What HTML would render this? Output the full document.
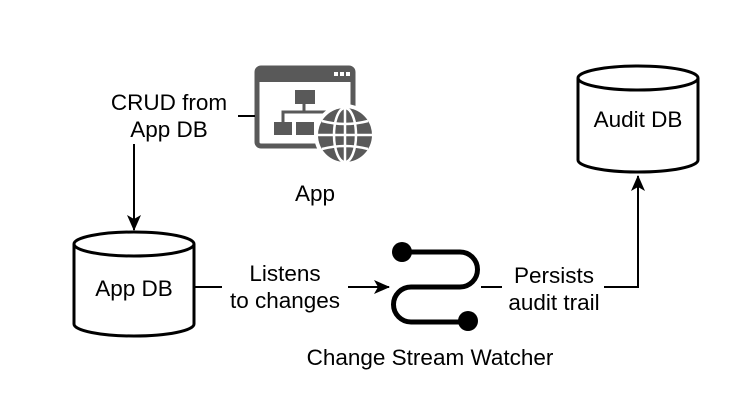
<!DOCTYPE html>
<html><head><style>
html,body{margin:0;padding:0;background:#fff;}
svg text{font-family:"Liberation Sans",Arial,sans-serif;font-size:22.5px;fill:#000;}
</style></head><body>
<svg width="738" height="410" viewBox="0 0 738 410" xmlns="http://www.w3.org/2000/svg">
<defs>
<marker id="ah" markerWidth="18" markerHeight="18" refX="16" refY="9" orient="auto" markerUnits="userSpaceOnUse">
<path d="M1,2 L17,9 L1,16 L5,9 Z" fill="#000"/>
</marker>
</defs>
<!-- App icon -->
<rect x="257" y="68" width="96" height="78" rx="4" fill="none" stroke="#595959" stroke-width="5"/>
<rect x="257" y="68" width="96" height="14" fill="#595959"/>
<rect x="334" y="72" width="4" height="4" fill="#fff"/><rect x="340" y="72" width="4" height="4" fill="#fff"/><rect x="346" y="72" width="4" height="4" fill="#fff"/>
<rect x="295" y="90" width="20" height="14" fill="#595959"/>
<path d="M304,104 V112 M283,123 V112 H326 V123" stroke="#595959" stroke-width="3" fill="none"/>
<rect x="274" y="122" width="18" height="13" fill="#595959"/>
<rect x="296" y="122" width="18" height="13" fill="#595959"/>
<circle cx="345" cy="135" r="31" fill="#fff"/>
<circle cx="345" cy="135" r="27" fill="#595959"/>
<g stroke="#fff" stroke-width="2.5" fill="none">
<ellipse cx="345" cy="135" rx="11" ry="27"/>
<line x1="345" y1="108" x2="345" y2="162"/>
<line x1="318" y1="135" x2="372" y2="135"/>
<path d="M322,121 Q345,127 368,121"/>
<path d="M322,149 Q345,143 368,149"/>
</g>
<text x="315" y="201" text-anchor="middle">App</text>
<!-- CRUD -->
<line x1="238" y1="116" x2="255" y2="116" stroke="#000" stroke-width="2"/>
<text x="169" y="110" text-anchor="middle">CRUD from</text>
<text x="169" y="137" text-anchor="middle">App DB</text>
<line x1="134" y1="144" x2="134" y2="230" stroke="#000" stroke-width="2" marker-end="url(#ah)"/>
<!-- App DB -->
<path d="M74,244 V324 A60,12 0 0 0 194,324 V244" fill="#fff" stroke="#000" stroke-width="3"/>
<ellipse cx="134" cy="244" rx="60" ry="12" fill="#fff" stroke="#000" stroke-width="3"/>
<text x="134" y="296" text-anchor="middle">App DB</text>
<!-- Listens -->
<line x1="194" y1="287" x2="222" y2="287" stroke="#000" stroke-width="2"/>
<line x1="348" y1="287" x2="389" y2="287" stroke="#000" stroke-width="2" marker-end="url(#ah)"/>
<text x="285" y="281" text-anchor="middle">Listens</text>
<text x="285" y="308" text-anchor="middle">to changes</text>
<!-- Watcher -->
<path d="M402,252 H460 A17.5,17.5 0 0 1 460,287 H411 A17.5,17.5 0 0 0 411,322 H468" fill="none" stroke="#000" stroke-width="5"/>
<circle cx="402" cy="252" r="10" fill="#000"/>
<circle cx="468" cy="321" r="10" fill="#000"/>
<text x="430" y="365" text-anchor="middle">Change Stream Watcher</text>
<!-- Persists -->
<line x1="481" y1="287" x2="502" y2="287" stroke="#000" stroke-width="2"/>
<path d="M604,287 H638 V176" fill="none" stroke="#000" stroke-width="2" marker-end="url(#ah)"/>
<text x="554" y="283" text-anchor="middle">Persists</text>
<text x="554" y="310" text-anchor="middle">audit trail</text>
<!-- Audit DB -->
<path d="M578,78 V160 A60,12 0 0 0 698,160 V78" fill="#fff" stroke="#000" stroke-width="3"/>
<ellipse cx="638" cy="78" rx="60" ry="12" fill="#fff" stroke="#000" stroke-width="3"/>
<text x="638" y="127" text-anchor="middle">Audit DB</text>
</svg>
</body></html>
